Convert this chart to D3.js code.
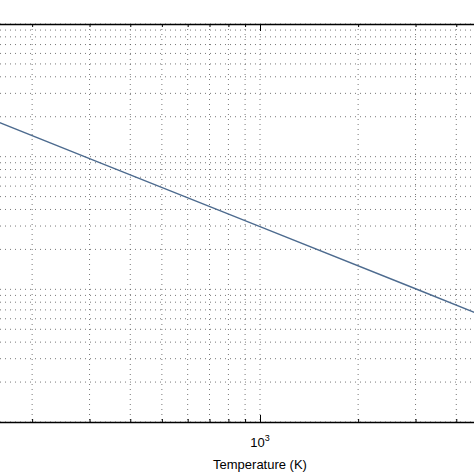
<!DOCTYPE html>
<html><head><meta charset="utf-8">
<script src="https://cdn.jsdelivr.net/npm/d3@7"></script>
<style>body{margin:0;background:#fff}svg{display:block}</style>
</head><body>
<script>
const temperature = [150, 300, 1000, 3000, 5000];
const values = [0.191, 0.0966, 0.0297, 0.0101, 0.0061];
const xLabel = "Temperature (K)";

(function(){
const W = 474, H = 474;
const svg = d3.select("body").append("svg").attr("width", W).attr("height", H);
const yTop = 24, yBot = 422;
const x = d3.scaleLog().domain([100, 5000]).range([-66, 260 + 326 * Math.log10(5)]);
const y = d3.scaleLog().domain([0.001, 1]).range([yBot, yTop]);

const xt = [], yt = [];
for (let d = 100; d <= 1000; d *= 10) for (let k = 1; k <= 9; k++) { const v = d * k; if (v <= 5000) xt.push(v); }
for (let e = -3; e < 0; e++) for (let k = 1; k <= 9; k++) yt.push(k * Math.pow(10, e));
yt.push(1);

const g = svg.append("g");
g.selectAll("line.vx").data(xt).join("line")
  .attr("x1", d => x(d)).attr("x2", d => x(d)).attr("y1", yTop).attr("y2", yBot)
  .attr("stroke", "#555").attr("stroke-width", 0.8).attr("stroke-dasharray", "1,4");
g.selectAll("line.hy").data(yt).join("line")
  .attr("y1", d => y(d)).attr("y2", d => y(d)).attr("x1", 0).attr("x2", W)
  .attr("stroke", "#555").attr("stroke-width", 0.8).attr("stroke-dasharray", "1,4");

const axB = d3.axisBottom(x).tickValues(xt).tickSizeOuter(0).tickFormat("");
const axT = d3.axisTop(x).tickValues(xt).tickSizeOuter(0).tickFormat("");
const gb = svg.append("g").attr("transform", `translate(0,${yBot})`).call(axB);
const gt = svg.append("g").attr("transform", `translate(0,${yTop})`).call(axT);
gb.selectAll(".tick line").attr("y2", d => d === 1000 ? -7 : -3);
gt.selectAll(".tick line").attr("y2", d => d === 1000 ? 7 : 3);
[gb, gt].forEach(a => {
  a.select(".domain").attr("stroke", "#000").attr("stroke-width", 1.3);
  a.selectAll(".tick line").attr("stroke", "#000");
});

svg.append("path").datum(temperature.map((t, i) => [t, values[i]]))
  .attr("fill", "none").attr("stroke", "#4d6b8f").attr("stroke-width", 1.4)
  .attr("d", d3.line().x(d => x(d[0])).y(d => y(d[1])));

const lab = svg.append("text").attr("x", x(1000)).attr("y", 447).attr("text-anchor", "middle")
  .attr("font-family", "Liberation Sans, Arial, sans-serif").attr("font-size", 13);
lab.append("tspan").text("10");
lab.append("tspan").attr("dy", -6).attr("font-size", 9).text("3");
svg.append("text").attr("x", x(1000)).attr("y", 469).attr("text-anchor", "middle")
  .attr("font-family", "Liberation Sans, Arial, sans-serif").attr("font-size", 13).text(xLabel);
})();
</script>
</body></html>
